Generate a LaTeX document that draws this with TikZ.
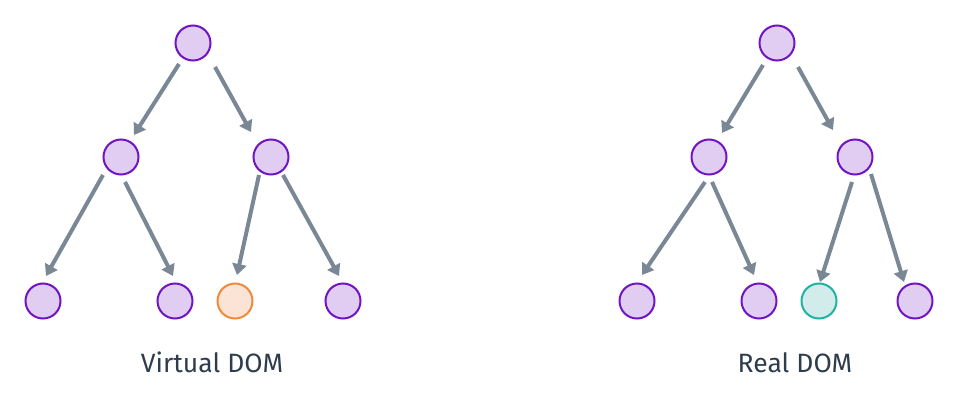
\documentclass[tikz,border=0pt]{standalone}
\usepackage{fontspec}
\setmainfont{Fira Sans}
\usetikzlibrary{arrows.meta,calc}
\definecolor{nodestroke}{HTML}{7014C4}
\definecolor{nodefill}{HTML}{E1CDF1}
\definecolor{orstroke}{HTML}{EF8A3A}
\definecolor{orfill}{HTML}{FBE3D6}
\definecolor{tealstroke}{HTML}{1FB3A3}
\definecolor{tealfill}{HTML}{D1ECEA}
\definecolor{arrowcol}{HTML}{7A8794}
\definecolor{textcol}{HTML}{2E3D4D}
\tikzset{
  vnode/.style={circle,draw=nodestroke,fill=nodefill,line width=2pt,minimum size=35pt,inner sep=0pt},
  onode/.style={vnode,draw=orstroke,fill=orfill},
  tnode/.style={vnode,draw=tealstroke,fill=tealfill},
  conn/.style={draw=arrowcol,line width=4pt,-{Triangle[length=11pt 0 0,width=14pt 0 0]}},
  caption/.style={text=textcol,font=\fontsize{26.5}{30}\selectfont,inner sep=0pt}
}
\begin{document}
\begin{tikzpicture}[x=1pt,y=-1pt]
\useasboundingbox (0,0) rectangle (958,404);
% left tree
\node[vnode] (r) at (193,43) {};
\node[vnode] (a) at (121,157) {};
\node[vnode] (b) at (271,157) {};
\node[vnode] (l1) at (43,301) {};
\node[vnode] (l2) at (175,301) {};
\node[onode] (o) at (235,301) {};
\node[vnode] (l4) at (343,301) {};
\draw[conn] ($(r)+(-14,21)$) -- ($(a)+(13,-22)$);
\draw[conn] ($(r)+(22,24)$) -- ($(b)+(-20,-25)$);
\draw[conn] ($(a)+(-18,18)$) -- ($(l1)+(3,-25)$);
\draw[conn] ($(a)+(4,25)$) -- ($(l2)+(-2,-25)$);
\draw[conn] ($(b)+(-12,18)$) -- ($(o)+(2,-26)$);
\draw[conn] ($(b)+(12,18)$) -- ($(l4)+(-4,-25)$);
\node[caption,anchor=base] (vcap) at (212,372) {Virtual DOM};
% right tree
\node[vnode] (R) at (777,43) {};
\node[vnode] (A) at (709,157) {};
\node[vnode] (B) at (855,157) {};
\node[vnode] (m1) at (637,301) {};
\node[vnode] (m2) at (759,301) {};
\node[tnode] (t) at (819,301) {};
\node[vnode] (m4) at (915,301) {};
\draw[conn] ($(R)+(-14,22)$) -- ($(A)+(13,-24)$);
\draw[conn] ($(R)+(21,24)$) -- ($(B)+(-22,-27)$);
\draw[conn] ($(A)+(-4,25)$) -- ($(m1)+(5,-26)$);
\draw[conn] ($(A)+(3,25)$) -- ($(m2)+(-5,-26)$);
\draw[conn] ($(B)+(-3,25)$) -- ($(t)+(1,-19)$);
\draw[conn] ($(B)+(16,17)$) -- ($(m4)+(-11,-19)$);
\node[caption,anchor=base] (rcap) at (795,372) {Real DOM};
\end{tikzpicture}
\end{document}
